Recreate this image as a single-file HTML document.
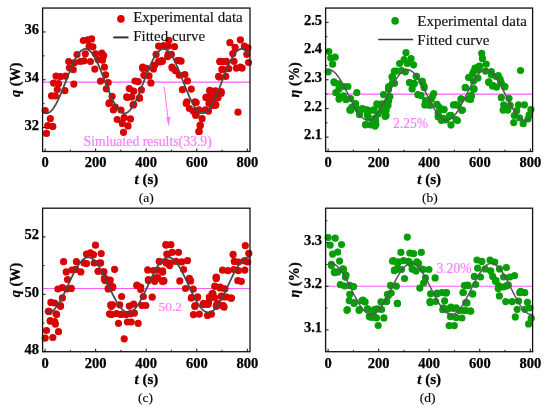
<!DOCTYPE html><html><head><meta charset="utf-8"><style>html,body{margin:0;padding:0;background:#fff;width:550px;height:413px;overflow:hidden}svg{display:block}</style></head><body>
<svg width="550" height="413" viewBox="0 0 550 413">
<rect width="550" height="413" fill="#fff"/>
<line x1="42.6" y1="82.17" x2="250.0" y2="82.17" stroke="#ff5cff" stroke-width="1.1"/>
<g fill="#d80404"><circle cx="83.4" cy="40.5" r="3.6"/><circle cx="87.8" cy="39.8" r="3.6"/><circle cx="91.6" cy="38.9" r="3.6"/><circle cx="89.1" cy="46.2" r="3.6"/><circle cx="92.9" cy="46.8" r="3.6"/><circle cx="77.0" cy="54.5" r="3.6"/><circle cx="85.3" cy="53.8" r="3.6"/><circle cx="95.5" cy="53.8" r="3.6"/><circle cx="101.8" cy="53.2" r="3.6"/><circle cx="103.7" cy="55.7" r="3.6"/><circle cx="68.7" cy="61.5" r="3.6"/><circle cx="74.5" cy="62.7" r="3.6"/><circle cx="80.2" cy="61.5" r="3.6"/><circle cx="84.0" cy="60.8" r="3.6"/><circle cx="90.4" cy="61.5" r="3.6"/><circle cx="98.0" cy="59.5" r="3.6"/><circle cx="102.5" cy="60.2" r="3.6"/><circle cx="69.4" cy="67.8" r="3.6"/><circle cx="73.2" cy="69.7" r="3.6"/><circle cx="94.8" cy="69.1" r="3.6"/><circle cx="104.4" cy="67.2" r="3.6"/><circle cx="56.0" cy="76.1" r="3.6"/><circle cx="60.5" cy="76.7" r="3.6"/><circle cx="65.5" cy="76.1" r="3.6"/><circle cx="105.6" cy="74.8" r="3.6"/><circle cx="53.5" cy="83.1" r="3.6"/><circle cx="58.5" cy="83.7" r="3.6"/><circle cx="73.8" cy="84.1" r="3.6"/><circle cx="100.5" cy="81.2" r="3.6"/><circle cx="108.2" cy="82.5" r="3.6"/><circle cx="57.3" cy="89.5" r="3.6"/><circle cx="64.9" cy="90.7" r="3.6"/><circle cx="106.3" cy="88.8" r="3.6"/><circle cx="51.5" cy="95.8" r="3.6"/><circle cx="55.4" cy="95.8" r="3.6"/><circle cx="45.2" cy="110.5" r="3.6"/><circle cx="50.3" cy="118.7" r="3.6"/><circle cx="47.7" cy="125.7" r="3.6"/><circle cx="52.8" cy="126.4" r="3.6"/><circle cx="46.5" cy="133.4" r="3.6"/><circle cx="112.1" cy="96.3" r="3.6"/><circle cx="109.5" cy="102.6" r="3.6"/><circle cx="115.3" cy="107.0" r="3.6"/><circle cx="129.3" cy="88.6" r="3.6"/><circle cx="135.0" cy="81.0" r="3.6"/><circle cx="138.2" cy="81.6" r="3.6"/><circle cx="133.7" cy="91.2" r="3.6"/><circle cx="141.4" cy="89.9" r="3.6"/><circle cx="126.7" cy="96.9" r="3.6"/><circle cx="131.8" cy="96.9" r="3.6"/><circle cx="139.5" cy="98.2" r="3.6"/><circle cx="133.7" cy="104.5" r="3.6"/><circle cx="142.6" cy="68.3" r="3.6"/><circle cx="146.5" cy="68.3" r="3.6"/><circle cx="143.9" cy="75.3" r="3.6"/><circle cx="149.0" cy="75.9" r="3.6"/><circle cx="153.5" cy="68.9" r="3.6"/><circle cx="154.7" cy="65.1" r="3.6"/><circle cx="159.2" cy="61.9" r="3.6"/><circle cx="162.4" cy="61.3" r="3.6"/><circle cx="150.9" cy="82.9" r="3.6"/><circle cx="168.8" cy="40.4" r="3.6"/><circle cx="158.6" cy="46.1" r="3.6"/><circle cx="163.7" cy="45.5" r="3.6"/><circle cx="168.2" cy="46.1" r="3.6"/><circle cx="174.5" cy="46.7" r="3.6"/><circle cx="156.1" cy="54.4" r="3.6"/><circle cx="168.2" cy="54.4" r="3.6"/><circle cx="171.4" cy="54.4" r="3.6"/><circle cx="158.6" cy="61.4" r="3.6"/><circle cx="161.8" cy="60.7" r="3.6"/><circle cx="179.6" cy="60.7" r="3.6"/><circle cx="142.7" cy="67.1" r="3.6"/><circle cx="172.0" cy="67.1" r="3.6"/><circle cx="167.7" cy="56.6" r="3.6"/><circle cx="177.3" cy="60.5" r="3.6"/><circle cx="181.1" cy="61.1" r="3.6"/><circle cx="172.2" cy="68.1" r="3.6"/><circle cx="175.4" cy="70.6" r="3.6"/><circle cx="179.2" cy="75.1" r="3.6"/><circle cx="184.9" cy="74.5" r="3.6"/><circle cx="187.5" cy="80.8" r="3.6"/><circle cx="182.4" cy="89.7" r="3.6"/><circle cx="191.3" cy="89.1" r="3.6"/><circle cx="186.8" cy="101.8" r="3.6"/><circle cx="195.1" cy="101.8" r="3.6"/><circle cx="219.9" cy="61.7" r="3.6"/><circle cx="223.1" cy="61.7" r="3.6"/><circle cx="221.8" cy="69.4" r="3.6"/><circle cx="218.6" cy="76.4" r="3.6"/><circle cx="209.7" cy="90.4" r="3.6"/><circle cx="214.8" cy="91.6" r="3.6"/><circle cx="221.2" cy="91.6" r="3.6"/><circle cx="205.9" cy="97.4" r="3.6"/><circle cx="211.0" cy="96.7" r="3.6"/><circle cx="217.4" cy="98.0" r="3.6"/><circle cx="213.5" cy="102.5" r="3.6"/><circle cx="186.2" cy="103.5" r="3.6"/><circle cx="189.4" cy="108.5" r="3.6"/><circle cx="193.2" cy="111.1" r="3.6"/><circle cx="198.9" cy="109.8" r="3.6"/><circle cx="205.3" cy="109.8" r="3.6"/><circle cx="208.5" cy="111.1" r="3.6"/><circle cx="195.7" cy="115.5" r="3.6"/><circle cx="202.1" cy="118.7" r="3.6"/><circle cx="200.2" cy="125.7" r="3.6"/><circle cx="198.9" cy="131.5" r="3.6"/><circle cx="218.0" cy="97.7" r="3.6"/><circle cx="213.5" cy="105.4" r="3.6"/><circle cx="221.2" cy="93.3" r="3.6"/><circle cx="108.9" cy="103.6" r="3.6"/><circle cx="113.4" cy="110.0" r="3.6"/><circle cx="121.0" cy="110.0" r="3.6"/><circle cx="127.4" cy="97.3" r="3.6"/><circle cx="139.5" cy="97.9" r="3.6"/><circle cx="133.1" cy="104.9" r="3.6"/><circle cx="117.2" cy="119.5" r="3.6"/><circle cx="124.2" cy="117.6" r="3.6"/><circle cx="130.5" cy="118.9" r="3.6"/><circle cx="122.3" cy="123.4" r="3.6"/><circle cx="128.0" cy="125.9" r="3.6"/><circle cx="123.5" cy="132.3" r="3.6"/><circle cx="240.4" cy="39.8" r="3.6"/><circle cx="229.9" cy="42.7" r="3.6"/><circle cx="235.1" cy="47.3" r="3.6"/><circle cx="244.4" cy="46.2" r="3.6"/><circle cx="247.9" cy="47.9" r="3.6"/><circle cx="232.8" cy="53.7" r="3.6"/><circle cx="246.8" cy="54.3" r="3.6"/><circle cx="220.0" cy="61.3" r="3.6"/><circle cx="226.4" cy="61.3" r="3.6"/><circle cx="234.0" cy="61.3" r="3.6"/><circle cx="248.5" cy="62.5" r="3.6"/><circle cx="240.4" cy="67.1" r="3.6"/><circle cx="225.8" cy="61.7" r="3.6"/><circle cx="222.9" cy="69.3" r="3.6"/><circle cx="228.7" cy="68.7" r="3.6"/><circle cx="236.3" cy="68.1" r="3.6"/><circle cx="242.1" cy="68.1" r="3.6"/><circle cx="219.4" cy="76.9" r="3.6"/><circle cx="225.8" cy="76.3" r="3.6"/><circle cx="210.1" cy="90.8" r="3.6"/><circle cx="215.4" cy="90.8" r="3.6"/><circle cx="206.6" cy="97.2" r="3.6"/><circle cx="211.9" cy="96.6" r="3.6"/><circle cx="196.2" cy="102.5" r="3.6"/><circle cx="212.5" cy="104.8" r="3.6"/><circle cx="215.9" cy="104.8" r="3.6"/><circle cx="238.0" cy="112.2" r="3.6"/><circle cx="215.4" cy="105.2" r="3.6"/><circle cx="209.0" cy="103.5" r="3.6"/><circle cx="200.2" cy="125.0" r="3.6"/><circle cx="199.1" cy="131.4" r="3.6"/><circle cx="196.2" cy="114.0" r="3.6"/></g>
<polyline points="45.10,113.08 45.61,113.19 46.11,113.24 46.62,113.24 47.12,113.19 47.63,113.08 48.13,112.92 48.64,112.71 49.14,112.45 49.65,112.13 50.16,111.76 50.66,111.34 51.17,110.88 51.67,110.36 52.18,109.79 52.68,109.18 53.19,108.52 53.69,107.82 54.20,107.07 54.70,106.27 55.21,105.44 55.72,104.57 56.22,103.65 56.73,102.70 57.23,101.72 57.74,100.70 58.24,99.65 58.75,98.56 59.25,97.45 59.76,96.31 60.27,95.15 60.77,93.96 61.28,92.75 61.78,91.52 62.29,90.28 62.79,89.02 63.30,87.74 63.80,86.46 64.31,85.17 64.81,83.87 65.32,82.56 65.83,81.25 66.33,79.95 66.84,78.64 67.34,77.34 67.85,76.04 68.35,74.76 68.86,73.48 69.36,72.22 69.87,70.97 70.38,69.73 70.88,68.52 71.39,67.33 71.89,66.16 72.40,65.01 72.90,63.89 73.41,62.80 73.91,61.74 74.42,60.71 74.92,59.72 75.43,58.76 75.94,57.84 76.44,56.95 76.95,56.11 77.45,55.31 77.96,54.55 78.46,53.83 78.97,53.16 79.47,52.54 79.98,51.96 80.48,51.43 80.99,50.95 81.50,50.52 82.00,50.14 82.51,49.81 83.01,49.53 83.52,49.31 84.02,49.13 84.53,49.01 85.03,48.95 85.54,48.93 86.05,48.97 86.55,49.07 87.06,49.21 87.56,49.41 88.07,49.66 88.57,49.97 89.08,50.32 89.58,50.73 90.09,51.18 90.59,51.69 91.10,52.24 91.61,52.84 92.11,53.49 92.62,54.18 93.12,54.92 93.63,55.70 94.13,56.53 94.64,57.39 95.14,58.29 95.65,59.23 96.16,60.21 96.66,61.22 97.17,62.27 97.67,63.34 98.18,64.45 98.68,65.58 99.19,66.74 99.69,67.92 100.20,69.12 100.70,70.35 101.21,71.59 101.72,72.85 102.22,74.12 102.73,75.40 103.23,76.69 103.74,77.99 104.24,79.29 104.75,80.60 105.25,81.91 105.76,83.21 106.27,84.52 106.77,85.81 107.28,87.10 107.78,88.38 108.29,89.65 108.79,90.90 109.30,92.14 109.80,93.36 110.31,94.56 110.81,95.73 111.32,96.88 111.83,98.01 112.33,99.11 112.84,100.18 113.34,101.21 113.85,102.22 114.35,103.18 114.86,104.12 115.36,105.01 115.87,105.86 116.38,106.68 116.88,107.45 117.39,108.17 117.89,108.86 118.40,109.49 118.90,110.08 119.41,110.62 119.91,111.12 120.42,111.56 120.92,111.95 121.43,112.29 121.94,112.58 122.44,112.82 122.95,113.01 123.45,113.14 123.96,113.22 124.46,113.25 124.97,113.22 125.47,113.14 125.98,113.01 126.49,112.82 126.99,112.58 127.50,112.29 128.00,111.95 128.51,111.56 129.01,111.12 129.52,110.62 130.02,110.08 130.53,109.49 131.03,108.86 131.54,108.17 132.05,107.45 132.55,106.68 133.06,105.86 133.56,105.01 134.07,104.12 134.57,103.18 135.08,102.22 135.58,101.21 136.09,100.18 136.60,99.11 137.10,98.01 137.61,96.88 138.11,95.73 138.62,94.56 139.12,93.36 139.63,92.14 140.13,90.90 140.64,89.65 141.14,88.38 141.65,87.10 142.16,85.81 142.66,84.52 143.17,83.21 143.67,81.91 144.18,80.60 144.68,79.29 145.19,77.99 145.69,76.69 146.20,75.40 146.71,74.12 147.21,72.85 147.72,71.59 148.22,70.35 148.73,69.12 149.23,67.92 149.74,66.74 150.24,65.58 150.75,64.45 151.25,63.34 151.76,62.27 152.27,61.22 152.77,60.21 153.28,59.23 153.78,58.29 154.29,57.39 154.79,56.53 155.30,55.70 155.80,54.92 156.31,54.18 156.82,53.49 157.32,52.84 157.83,52.24 158.33,51.69 158.84,51.18 159.34,50.73 159.85,50.32 160.35,49.97 160.86,49.66 161.36,49.41 161.87,49.21 162.38,49.07 162.88,48.97 163.39,48.93 163.89,48.95 164.40,49.01 164.90,49.13 165.41,49.31 165.91,49.53 166.42,49.81 166.93,50.14 167.43,50.52 167.94,50.95 168.44,51.43 168.95,51.96 169.45,52.54 169.96,53.16 170.46,53.83 170.97,54.55 171.47,55.31 171.98,56.11 172.49,56.95 172.99,57.84 173.50,58.76 174.00,59.72 174.51,60.71 175.01,61.74 175.52,62.80 176.02,63.89 176.53,65.01 177.04,66.16 177.54,67.33 178.05,68.52 178.55,69.73 179.06,70.97 179.56,72.22 180.07,73.48 180.57,74.76 181.08,76.04 181.58,77.34 182.09,78.64 182.60,79.95 183.10,81.25 183.61,82.56 184.11,83.87 184.62,85.17 185.12,86.46 185.63,87.74 186.13,89.02 186.64,90.28 187.15,91.52 187.65,92.75 188.16,93.96 188.66,95.15 189.17,96.31 189.67,97.45 190.18,98.56 190.68,99.65 191.19,100.70 191.69,101.72 192.20,102.70 192.71,103.65 193.21,104.57 193.72,105.44 194.22,106.27 194.73,107.07 195.23,107.82 195.74,108.52 196.24,109.18 196.75,109.79 197.26,110.36 197.76,110.88 198.27,111.34 198.77,111.76 199.28,112.13 199.78,112.45 200.29,112.71 200.79,112.92 201.30,113.08 201.80,113.19 202.31,113.24 202.82,113.24 203.32,113.19 203.83,113.08 204.33,112.92 204.84,112.71 205.34,112.45 205.85,112.13 206.35,111.76 206.86,111.34 207.37,110.88 207.87,110.36 208.38,109.79 208.88,109.18 209.39,108.52 209.89,107.82 210.40,107.07 210.90,106.27 211.41,105.44 211.91,104.57 212.42,103.65 212.93,102.70 213.43,101.72 213.94,100.70 214.44,99.65 214.95,98.56 215.45,97.45 215.96,96.31 216.46,95.15 216.97,93.96 217.48,92.75 217.98,91.52 218.49,90.28 218.99,89.02 219.50,87.74 220.00,86.46 220.51,85.17 221.01,83.87 221.52,82.56 222.02,81.25 222.53,79.95 223.04,78.64 223.54,77.34 224.05,76.04 224.55,74.76 225.06,73.48 225.56,72.22 226.07,70.97 226.57,69.73 227.08,68.52 227.59,67.33 228.09,66.16 228.60,65.01 229.10,63.89 229.61,62.80 230.11,61.74 230.62,60.71 231.12,59.72 231.63,58.76 232.13,57.84 232.64,56.95 233.15,56.11 233.65,55.31 234.16,54.55 234.66,53.83 235.17,53.16 235.67,52.54 236.18,51.96 236.68,51.43 237.19,50.95 237.70,50.52 238.20,50.14 238.71,49.81 239.21,49.53 239.72,49.31 240.22,49.13 240.73,49.01 241.23,48.95 241.74,48.93 242.24,48.97 242.75,49.07 243.26,49.21 243.76,49.41 244.27,49.66 244.77,49.97 245.28,50.32 245.78,50.73 246.29,51.18 246.79,51.69 247.30,52.24 247.81,52.84 248.31,53.49 248.82,54.18 249.32,54.92 249.83,55.70" fill="none" stroke="#424a4a" stroke-width="1.75"/>
<rect x="42.6" y="8.05" width="207.40" height="143.45" fill="none" stroke="#111" stroke-width="1.3"/>
<path d="M45.10,151.5v-3M70.38,151.5v-1.8M95.65,151.5v-3M120.92,151.5v-1.8M146.20,151.5v-3M171.47,151.5v-1.8M196.75,151.5v-3M222.02,151.5v-1.8M247.30,151.5v-3M42.6,127.59h3M42.6,79.78h3M42.6,31.96h3M42.6,103.68h1.8M42.6,55.87h1.8" stroke="#111" stroke-width="1" fill="none"/>
<text x="45.10" y="166.90" text-anchor="middle" font-family="'Liberation Serif', 'DejaVu Serif', serif" font-weight="bold" font-size="14.5" stroke="#000" stroke-width="0.25">0</text>
<text x="95.65" y="166.90" text-anchor="middle" font-family="'Liberation Serif', 'DejaVu Serif', serif" font-weight="bold" font-size="14.5" stroke="#000" stroke-width="0.25">200</text>
<text x="146.20" y="166.90" text-anchor="middle" font-family="'Liberation Serif', 'DejaVu Serif', serif" font-weight="bold" font-size="14.5" stroke="#000" stroke-width="0.25">400</text>
<text x="196.75" y="166.90" text-anchor="middle" font-family="'Liberation Serif', 'DejaVu Serif', serif" font-weight="bold" font-size="14.5" stroke="#000" stroke-width="0.25">600</text>
<text x="247.30" y="166.90" text-anchor="middle" font-family="'Liberation Serif', 'DejaVu Serif', serif" font-weight="bold" font-size="14.5" stroke="#000" stroke-width="0.25">800</text>
<text x="39.00" y="129.79" text-anchor="end" font-family="'Liberation Serif', 'DejaVu Serif', serif" font-weight="bold" font-size="14.5" stroke="#000" stroke-width="0.25">32</text>
<text x="39.00" y="81.98" text-anchor="end" font-family="'Liberation Serif', 'DejaVu Serif', serif" font-weight="bold" font-size="14.5" stroke="#000" stroke-width="0.25">34</text>
<text x="39.00" y="34.16" text-anchor="end" font-family="'Liberation Serif', 'DejaVu Serif', serif" font-weight="bold" font-size="14.5" stroke="#000" stroke-width="0.25">36</text>
<text x="146.40" y="183.70" text-anchor="middle" font-family="'Liberation Serif', 'DejaVu Serif', serif" font-weight="bold" font-size="15" stroke="#000" stroke-width="0.25"><tspan font-style="italic">t</tspan> (s)</text>
<text x="146.30" y="201.50" text-anchor="middle" font-family="'Liberation Serif', 'DejaVu Serif', serif" font-size="13.5" stroke="#000" stroke-width="0.12">(a)</text>
<text transform="translate(19.60,79.78) rotate(-90)" text-anchor="middle" font-family="'Liberation Serif', 'DejaVu Serif', serif" font-weight="bold" font-size="14.3" stroke="#000" stroke-width="0.25"><tspan font-style="italic">q</tspan> (W)</text>
<line x1="325.6" y1="94.12" x2="532.6" y2="94.12" stroke="#ff5cff" stroke-width="1.1"/>
<g fill="#069e06"><circle cx="328.8" cy="51.5" r="3.6"/><circle cx="330.7" cy="57.8" r="3.6"/><circle cx="335.2" cy="57.2" r="3.6"/><circle cx="332.6" cy="64.2" r="3.6"/><circle cx="328.2" cy="71.8" r="3.6"/><circle cx="334.5" cy="82.6" r="3.6"/><circle cx="338.4" cy="83.9" r="3.6"/><circle cx="347.9" cy="86.5" r="3.6"/><circle cx="344.1" cy="86.5" r="3.6"/><circle cx="392.5" cy="76.9" r="3.6"/><circle cx="394.4" cy="71.2" r="3.6"/><circle cx="388.6" cy="87.1" r="3.6"/><circle cx="333.9" cy="81.9" r="3.6"/><circle cx="339.0" cy="88.9" r="3.6"/><circle cx="335.8" cy="92.7" r="3.6"/><circle cx="339.6" cy="96.5" r="3.6"/><circle cx="343.5" cy="95.9" r="3.6"/><circle cx="339.0" cy="99.1" r="3.6"/><circle cx="346.0" cy="99.7" r="3.6"/><circle cx="350.5" cy="98.5" r="3.6"/><circle cx="356.8" cy="92.7" r="3.6"/><circle cx="355.5" cy="103.5" r="3.6"/><circle cx="351.7" cy="107.4" r="3.6"/><circle cx="349.8" cy="109.9" r="3.6"/><circle cx="358.1" cy="109.3" r="3.6"/><circle cx="362.5" cy="108.6" r="3.6"/><circle cx="367.0" cy="109.9" r="3.6"/><circle cx="359.4" cy="114.4" r="3.6"/><circle cx="367.6" cy="113.7" r="3.6"/><circle cx="368.3" cy="116.9" r="3.6"/><circle cx="365.7" cy="124.5" r="3.6"/><circle cx="371.5" cy="124.5" r="3.6"/><circle cx="375.9" cy="124.5" r="3.6"/><circle cx="374.0" cy="109.9" r="3.6"/><circle cx="377.2" cy="104.8" r="3.6"/><circle cx="381.0" cy="104.8" r="3.6"/><circle cx="375.3" cy="118.2" r="3.6"/><circle cx="381.6" cy="110.5" r="3.6"/><circle cx="386.1" cy="110.5" r="3.6"/><circle cx="386.1" cy="115.6" r="3.6"/><circle cx="383.5" cy="94.6" r="3.6"/><circle cx="388.6" cy="89.5" r="3.6"/><circle cx="389.9" cy="96.5" r="3.6"/><circle cx="388.6" cy="101.0" r="3.6"/><circle cx="388.0" cy="105.5" r="3.6"/><circle cx="392.5" cy="82.5" r="3.6"/><circle cx="350.8" cy="110.2" r="3.6"/><circle cx="355.3" cy="103.8" r="3.6"/><circle cx="359.7" cy="112.7" r="3.6"/><circle cx="366.7" cy="110.2" r="3.6"/><circle cx="367.4" cy="115.3" r="3.6"/><circle cx="373.1" cy="110.2" r="3.6"/><circle cx="376.9" cy="103.8" r="3.6"/><circle cx="382.0" cy="103.8" r="3.6"/><circle cx="387.7" cy="101.3" r="3.6"/><circle cx="386.5" cy="105.7" r="3.6"/><circle cx="385.2" cy="112.1" r="3.6"/><circle cx="385.2" cy="116.5" r="3.6"/><circle cx="378.2" cy="114.0" r="3.6"/><circle cx="365.5" cy="124.8" r="3.6"/><circle cx="370.5" cy="124.8" r="3.6"/><circle cx="375.0" cy="126.1" r="3.6"/><circle cx="373.1" cy="122.3" r="3.6"/><circle cx="375.6" cy="121.6" r="3.6"/><circle cx="406.0" cy="52.7" r="3.6"/><circle cx="404.1" cy="59.7" r="3.6"/><circle cx="411.1" cy="58.5" r="3.6"/><circle cx="399.6" cy="63.5" r="3.6"/><circle cx="407.3" cy="63.5" r="3.6"/><circle cx="413.6" cy="64.8" r="3.6"/><circle cx="396.5" cy="71.2" r="3.6"/><circle cx="401.5" cy="70.5" r="3.6"/><circle cx="405.4" cy="71.8" r="3.6"/><circle cx="392.0" cy="76.9" r="3.6"/><circle cx="394.5" cy="83.3" r="3.6"/><circle cx="416.2" cy="76.3" r="3.6"/><circle cx="409.8" cy="82.6" r="3.6"/><circle cx="414.3" cy="83.3" r="3.6"/><circle cx="421.9" cy="81.4" r="3.6"/><circle cx="423.8" cy="85.8" r="3.6"/><circle cx="388.8" cy="86.5" r="3.6"/><circle cx="416.5" cy="76.3" r="3.6"/><circle cx="409.5" cy="82.6" r="3.6"/><circle cx="414.0" cy="83.9" r="3.6"/><circle cx="422.3" cy="81.4" r="3.6"/><circle cx="424.2" cy="87.7" r="3.6"/><circle cx="412.1" cy="89.0" r="3.6"/><circle cx="417.8" cy="94.7" r="3.6"/><circle cx="421.0" cy="95.4" r="3.6"/><circle cx="433.7" cy="93.5" r="3.6"/><circle cx="425.5" cy="100.5" r="3.6"/><circle cx="431.2" cy="99.2" r="3.6"/><circle cx="424.8" cy="104.9" r="3.6"/><circle cx="429.9" cy="105.5" r="3.6"/><circle cx="436.9" cy="104.3" r="3.6"/><circle cx="439.5" cy="107.5" r="3.6"/><circle cx="443.9" cy="109.4" r="3.6"/><circle cx="438.2" cy="113.2" r="3.6"/><circle cx="438.2" cy="117.0" r="3.6"/><circle cx="443.3" cy="118.3" r="3.6"/><circle cx="449.6" cy="115.7" r="3.6"/><circle cx="456.0" cy="119.5" r="3.6"/><circle cx="453.5" cy="104.9" r="3.6"/><circle cx="457.9" cy="105.5" r="3.6"/><circle cx="462.4" cy="110.0" r="3.6"/><circle cx="461.1" cy="99.2" r="3.6"/><circle cx="465.5" cy="87.7" r="3.6"/><circle cx="468.7" cy="77.5" r="3.6"/><circle cx="432.5" cy="96.3" r="3.6"/><circle cx="437.0" cy="104.5" r="3.6"/><circle cx="444.0" cy="109.6" r="3.6"/><circle cx="438.3" cy="116.0" r="3.6"/><circle cx="441.5" cy="120.5" r="3.6"/><circle cx="445.9" cy="119.8" r="3.6"/><circle cx="451.0" cy="115.4" r="3.6"/><circle cx="451.0" cy="124.9" r="3.6"/><circle cx="457.4" cy="120.5" r="3.6"/><circle cx="455.5" cy="104.5" r="3.6"/><circle cx="461.8" cy="110.3" r="3.6"/><circle cx="461.2" cy="98.8" r="3.6"/><circle cx="468.2" cy="98.8" r="3.6"/><circle cx="471.4" cy="96.3" r="3.6"/><circle cx="481.7" cy="53.3" r="3.6"/><circle cx="482.4" cy="58.4" r="3.6"/><circle cx="486.2" cy="64.1" r="3.6"/><circle cx="479.8" cy="66.0" r="3.6"/><circle cx="473.5" cy="71.7" r="3.6"/><circle cx="478.5" cy="69.8" r="3.6"/><circle cx="485.5" cy="71.1" r="3.6"/><circle cx="491.3" cy="71.7" r="3.6"/><circle cx="469.0" cy="77.5" r="3.6"/><circle cx="477.9" cy="78.1" r="3.6"/><circle cx="498.3" cy="75.5" r="3.6"/><circle cx="488.7" cy="81.9" r="3.6"/><circle cx="493.2" cy="85.7" r="3.6"/><circle cx="500.8" cy="81.9" r="3.6"/><circle cx="504.6" cy="87.0" r="3.6"/><circle cx="465.2" cy="87.6" r="3.6"/><circle cx="473.5" cy="88.9" r="3.6"/><circle cx="520.5" cy="70.5" r="3.6"/><circle cx="473.5" cy="81.2" r="3.6"/><circle cx="474.1" cy="88.9" r="3.6"/><circle cx="471.2" cy="95.4" r="3.6"/><circle cx="470.6" cy="99.5" r="3.6"/><circle cx="488.9" cy="82.4" r="3.6"/><circle cx="492.5" cy="85.9" r="3.6"/><circle cx="496.6" cy="87.1" r="3.6"/><circle cx="501.3" cy="83.0" r="3.6"/><circle cx="504.9" cy="86.5" r="3.6"/><circle cx="501.3" cy="97.7" r="3.6"/><circle cx="509.0" cy="98.3" r="3.6"/><circle cx="503.7" cy="104.8" r="3.6"/><circle cx="510.2" cy="105.4" r="3.6"/><circle cx="503.1" cy="110.1" r="3.6"/><circle cx="507.8" cy="110.1" r="3.6"/><circle cx="518.5" cy="104.8" r="3.6"/><circle cx="524.4" cy="104.8" r="3.6"/><circle cx="516.7" cy="110.7" r="3.6"/><circle cx="514.3" cy="115.5" r="3.6"/><circle cx="519.6" cy="117.8" r="3.6"/><circle cx="513.7" cy="122.6" r="3.6"/><circle cx="523.2" cy="123.7" r="3.6"/><circle cx="529.1" cy="114.9" r="3.6"/><circle cx="530.9" cy="109.6" r="3.6"/><circle cx="527.9" cy="119.0" r="3.6"/><circle cx="475.0" cy="68.0" r="3.6"/><circle cx="478.5" cy="66.5" r="3.6"/><circle cx="472.5" cy="74.0" r="3.6"/><circle cx="491.5" cy="75.0" r="3.6"/><circle cx="496.0" cy="76.5" r="3.6"/><circle cx="500.0" cy="79.0" r="3.6"/></g>
<polyline points="328.10,69.77 328.61,69.73 329.11,69.75 329.62,69.80 330.12,69.89 330.63,70.02 331.13,70.20 331.64,70.41 332.14,70.67 332.65,70.96 333.16,71.30 333.66,71.67 334.17,72.08 334.67,72.53 335.18,73.01 335.68,73.53 336.19,74.09 336.69,74.68 337.20,75.30 337.70,75.95 338.21,76.64 338.72,77.36 339.22,78.10 339.73,78.87 340.23,79.67 340.74,80.49 341.24,81.34 341.75,82.21 342.25,83.10 342.76,84.01 343.27,84.94 343.77,85.88 344.28,86.84 344.78,87.81 345.29,88.80 345.79,89.79 346.30,90.79 346.80,91.80 347.31,92.82 347.81,93.83 348.32,94.85 348.83,95.87 349.33,96.89 349.84,97.91 350.34,98.92 350.85,99.92 351.35,100.92 351.86,101.90 352.36,102.88 352.87,103.84 353.38,104.79 353.88,105.72 354.39,106.64 354.89,107.53 355.40,108.41 355.90,109.26 356.41,110.09 356.91,110.89 357.42,111.67 357.92,112.42 358.43,113.15 358.94,113.84 359.44,114.50 359.95,115.13 360.45,115.73 360.96,116.29 361.46,116.82 361.97,117.32 362.47,117.77 362.98,118.19 363.49,118.58 363.99,118.92 364.50,119.22 365.00,119.49 365.51,119.71 366.01,119.90 366.52,120.04 367.02,120.15 367.53,120.21 368.03,120.23 368.54,120.21 369.05,120.15 369.55,120.04 370.06,119.90 370.56,119.71 371.07,119.49 371.57,119.22 372.08,118.92 372.58,118.58 373.09,118.19 373.60,117.77 374.10,117.32 374.61,116.82 375.11,116.29 375.62,115.73 376.12,115.13 376.63,114.50 377.13,113.84 377.64,113.15 378.14,112.42 378.65,111.67 379.16,110.89 379.66,110.09 380.17,109.26 380.67,108.41 381.18,107.53 381.68,106.64 382.19,105.72 382.69,104.79 383.20,103.84 383.71,102.88 384.21,101.90 384.72,100.92 385.22,99.92 385.73,98.92 386.23,97.91 386.74,96.89 387.24,95.87 387.75,94.85 388.25,93.83 388.76,92.82 389.27,91.80 389.77,90.79 390.28,89.79 390.78,88.80 391.29,87.81 391.79,86.84 392.30,85.88 392.80,84.94 393.31,84.01 393.81,83.10 394.32,82.21 394.83,81.34 395.33,80.49 395.84,79.67 396.34,78.87 396.85,78.10 397.35,77.36 397.86,76.64 398.36,75.95 398.87,75.30 399.38,74.68 399.88,74.09 400.39,73.53 400.89,73.01 401.40,72.53 401.90,72.08 402.41,71.67 402.91,71.30 403.42,70.96 403.93,70.67 404.43,70.41 404.94,70.20 405.44,70.02 405.95,69.89 406.45,69.80 406.96,69.75 407.46,69.73 407.97,69.77 408.47,69.84 408.98,69.95 409.49,70.10 409.99,70.30 410.50,70.53 411.00,70.81 411.51,71.12 412.01,71.48 412.52,71.87 413.02,72.30 413.53,72.76 414.04,73.27 414.54,73.80 415.05,74.38 415.55,74.98 416.06,75.62 416.56,76.29 417.07,76.99 417.57,77.72 418.08,78.48 418.58,79.27 419.09,80.08 419.60,80.91 420.10,81.77 420.61,82.65 421.11,83.55 421.62,84.47 422.12,85.41 422.63,86.36 423.13,87.32 423.64,88.30 424.14,89.29 424.65,90.29 425.16,91.30 425.66,92.31 426.17,93.32 426.67,94.34 427.18,95.36 427.68,96.38 428.19,97.40 428.69,98.41 429.20,99.42 429.71,100.42 430.21,101.41 430.72,102.39 431.22,103.36 431.73,104.32 432.23,105.26 432.74,106.18 433.24,107.09 433.75,107.97 434.25,108.83 434.76,109.68 435.27,110.49 435.77,111.29 436.28,112.05 436.78,112.79 437.29,113.50 437.79,114.17 438.30,114.82 438.80,115.44 439.31,116.02 439.82,116.56 440.32,117.08 440.83,117.55 441.33,117.99 441.84,118.39 442.34,118.75 442.85,119.08 443.35,119.36 443.86,119.61 444.37,119.81 444.87,119.98 445.38,120.10 445.88,120.18 446.39,120.22 446.89,120.22 447.40,120.18 447.90,120.10 448.41,119.98 448.91,119.81 449.42,119.61 449.93,119.36 450.43,119.08 450.94,118.75 451.44,118.39 451.95,117.99 452.45,117.55 452.96,117.08 453.46,116.56 453.97,116.02 454.48,115.44 454.98,114.82 455.49,114.17 455.99,113.50 456.50,112.79 457.00,112.05 457.51,111.29 458.01,110.49 458.52,109.68 459.02,108.83 459.53,107.97 460.04,107.09 460.54,106.18 461.05,105.26 461.55,104.32 462.06,103.36 462.56,102.39 463.07,101.41 463.57,100.42 464.08,99.42 464.59,98.41 465.09,97.40 465.60,96.38 466.10,95.36 466.61,94.34 467.11,93.32 467.62,92.31 468.12,91.30 468.63,90.29 469.13,89.29 469.64,88.30 470.15,87.32 470.65,86.36 471.16,85.41 471.66,84.47 472.17,83.55 472.67,82.65 473.18,81.77 473.68,80.91 474.19,80.08 474.70,79.27 475.20,78.48 475.71,77.72 476.21,76.99 476.72,76.29 477.22,75.62 477.73,74.98 478.23,74.38 478.74,73.80 479.24,73.27 479.75,72.76 480.26,72.30 480.76,71.87 481.27,71.48 481.77,71.12 482.28,70.81 482.78,70.53 483.29,70.30 483.79,70.10 484.30,69.95 484.81,69.84 485.31,69.77 485.82,69.73 486.32,69.75 486.83,69.80 487.33,69.89 487.84,70.02 488.34,70.20 488.85,70.41 489.35,70.67 489.86,70.96 490.37,71.30 490.87,71.67 491.38,72.08 491.88,72.53 492.39,73.01 492.89,73.53 493.40,74.09 493.90,74.68 494.41,75.30 494.91,75.95 495.42,76.64 495.93,77.36 496.43,78.10 496.94,78.87 497.44,79.67 497.95,80.49 498.45,81.34 498.96,82.21 499.46,83.10 499.97,84.01 500.48,84.94 500.98,85.88 501.49,86.84 501.99,87.81 502.50,88.80 503.00,89.79 503.51,90.79 504.01,91.80 504.52,92.82 505.02,93.83 505.53,94.85 506.04,95.87 506.54,96.89 507.05,97.91 507.55,98.92 508.06,99.92 508.56,100.92 509.07,101.90 509.57,102.88 510.08,103.84 510.59,104.79 511.09,105.72 511.60,106.64 512.10,107.53 512.61,108.41 513.11,109.26 513.62,110.09 514.12,110.89 514.63,111.67 515.13,112.42 515.64,113.15 516.15,113.84 516.65,114.50 517.16,115.13 517.66,115.73 518.17,116.29 518.67,116.82 519.18,117.32 519.68,117.77 520.19,118.19 520.70,118.58 521.20,118.92 521.71,119.22 522.21,119.49 522.72,119.71 523.22,119.90 523.73,120.04 524.23,120.15 524.74,120.21 525.25,120.23 525.75,120.21 526.26,120.15 526.76,120.04 527.27,119.90 527.77,119.71 528.28,119.49 528.78,119.22 529.29,118.92 529.79,118.58 530.30,118.19 530.81,117.77 531.31,117.32 531.82,116.82 532.32,116.29" fill="none" stroke="#5a5060" stroke-width="1.5"/>
<rect x="325.6" y="8.05" width="207.00" height="143.45" fill="none" stroke="#111" stroke-width="1.3"/>
<path d="M328.10,151.5v-3M353.38,151.5v-1.8M378.65,151.5v-3M403.93,151.5v-1.8M429.20,151.5v-3M454.48,151.5v-1.8M479.75,151.5v-3M505.02,151.5v-1.8M530.30,151.5v-3M325.6,137.15h3M325.6,108.46h3M325.6,79.78h3M325.6,51.08h3M325.6,22.39h3M325.6,122.81h1.8M325.6,94.12h1.8M325.6,65.43h1.8M325.6,36.74h1.8" stroke="#111" stroke-width="1" fill="none"/>
<text x="328.10" y="166.90" text-anchor="middle" font-family="'Liberation Serif', 'DejaVu Serif', serif" font-weight="bold" font-size="14.5" stroke="#000" stroke-width="0.25">0</text>
<text x="378.65" y="166.90" text-anchor="middle" font-family="'Liberation Serif', 'DejaVu Serif', serif" font-weight="bold" font-size="14.5" stroke="#000" stroke-width="0.25">200</text>
<text x="429.20" y="166.90" text-anchor="middle" font-family="'Liberation Serif', 'DejaVu Serif', serif" font-weight="bold" font-size="14.5" stroke="#000" stroke-width="0.25">400</text>
<text x="479.75" y="166.90" text-anchor="middle" font-family="'Liberation Serif', 'DejaVu Serif', serif" font-weight="bold" font-size="14.5" stroke="#000" stroke-width="0.25">600</text>
<text x="530.30" y="166.90" text-anchor="middle" font-family="'Liberation Serif', 'DejaVu Serif', serif" font-weight="bold" font-size="14.5" stroke="#000" stroke-width="0.25">800</text>
<text x="322.00" y="139.35" text-anchor="end" font-family="'Liberation Serif', 'DejaVu Serif', serif" font-weight="bold" font-size="14.5" stroke="#000" stroke-width="0.25">2.1</text>
<text x="322.00" y="110.66" text-anchor="end" font-family="'Liberation Serif', 'DejaVu Serif', serif" font-weight="bold" font-size="14.5" stroke="#000" stroke-width="0.25">2.2</text>
<text x="322.00" y="81.98" text-anchor="end" font-family="'Liberation Serif', 'DejaVu Serif', serif" font-weight="bold" font-size="14.5" stroke="#000" stroke-width="0.25">2.3</text>
<text x="322.00" y="53.28" text-anchor="end" font-family="'Liberation Serif', 'DejaVu Serif', serif" font-weight="bold" font-size="14.5" stroke="#000" stroke-width="0.25">2.4</text>
<text x="322.00" y="24.59" text-anchor="end" font-family="'Liberation Serif', 'DejaVu Serif', serif" font-weight="bold" font-size="14.5" stroke="#000" stroke-width="0.25">2.5</text>
<text x="429.20" y="183.70" text-anchor="middle" font-family="'Liberation Serif', 'DejaVu Serif', serif" font-weight="bold" font-size="15" stroke="#000" stroke-width="0.25"><tspan font-style="italic">t</tspan> (s)</text>
<text x="429.90" y="201.50" text-anchor="middle" font-family="'Liberation Serif', 'DejaVu Serif', serif" font-size="13.5" stroke="#000" stroke-width="0.12">(b)</text>
<text transform="translate(298.60,79.78) rotate(-90)" text-anchor="middle" font-family="'Liberation Serif', 'DejaVu Serif', serif" font-weight="bold" font-size="14.3" stroke="#000" stroke-width="0.25"><tspan font-style="italic">η</tspan> (%)</text>
<line x1="42.6" y1="288.56" x2="250.0" y2="288.56" stroke="#ff5cff" stroke-width="1.1"/>
<g fill="#d80404"><circle cx="95.5" cy="245.2" r="3.6"/><circle cx="86.5" cy="254.1" r="3.6"/><circle cx="90.4" cy="252.8" r="3.6"/><circle cx="93.5" cy="254.7" r="3.6"/><circle cx="101.2" cy="253.5" r="3.6"/><circle cx="63.6" cy="261.7" r="3.6"/><circle cx="76.4" cy="261.7" r="3.6"/><circle cx="84.0" cy="263.0" r="3.6"/><circle cx="86.5" cy="263.6" r="3.6"/><circle cx="94.2" cy="263.0" r="3.6"/><circle cx="99.3" cy="263.0" r="3.6"/><circle cx="66.2" cy="271.9" r="3.6"/><circle cx="71.9" cy="270.0" r="3.6"/><circle cx="75.7" cy="269.4" r="3.6"/><circle cx="80.8" cy="271.9" r="3.6"/><circle cx="98.0" cy="271.3" r="3.6"/><circle cx="103.7" cy="271.9" r="3.6"/><circle cx="67.5" cy="279.5" r="3.6"/><circle cx="104.4" cy="278.3" r="3.6"/><circle cx="57.9" cy="289.0" r="3.6"/><circle cx="62.4" cy="287.7" r="3.6"/><circle cx="66.8" cy="289.0" r="3.6"/><circle cx="71.3" cy="288.4" r="3.6"/><circle cx="62.4" cy="297.9" r="3.6"/><circle cx="50.9" cy="302.4" r="3.6"/><circle cx="54.7" cy="303.0" r="3.6"/><circle cx="60.5" cy="305.5" r="3.6"/><circle cx="48.4" cy="311.3" r="3.6"/><circle cx="56.0" cy="313.8" r="3.6"/><circle cx="50.3" cy="320.8" r="3.6"/><circle cx="54.7" cy="321.5" r="3.6"/><circle cx="105.6" cy="278.8" r="3.6"/><circle cx="108.2" cy="288.4" r="3.6"/><circle cx="110.7" cy="304.9" r="3.6"/><circle cx="109.5" cy="313.8" r="3.6"/><circle cx="49.0" cy="311.4" r="3.6"/><circle cx="56.6" cy="314.5" r="3.6"/><circle cx="50.3" cy="320.9" r="3.6"/><circle cx="55.4" cy="324.1" r="3.6"/><circle cx="46.5" cy="330.5" r="3.6"/><circle cx="58.5" cy="331.7" r="3.6"/><circle cx="45.2" cy="338.1" r="3.6"/><circle cx="52.8" cy="337.5" r="3.6"/><circle cx="60.5" cy="306.3" r="3.6"/><circle cx="111.4" cy="306.3" r="3.6"/><circle cx="100.6" cy="262.9" r="3.6"/><circle cx="103.8" cy="271.8" r="3.6"/><circle cx="114.6" cy="269.3" r="3.6"/><circle cx="104.5" cy="279.5" r="3.6"/><circle cx="110.2" cy="280.1" r="3.6"/><circle cx="112.7" cy="286.5" r="3.6"/><circle cx="136.9" cy="285.2" r="3.6"/><circle cx="140.7" cy="287.1" r="3.6"/><circle cx="147.7" cy="269.9" r="3.6"/><circle cx="153.5" cy="270.5" r="3.6"/><circle cx="162.4" cy="271.8" r="3.6"/><circle cx="148.4" cy="279.5" r="3.6"/><circle cx="154.7" cy="278.2" r="3.6"/><circle cx="157.9" cy="278.2" r="3.6"/><circle cx="163.6" cy="280.7" r="3.6"/><circle cx="159.2" cy="261.6" r="3.6"/><circle cx="166.2" cy="262.9" r="3.6"/><circle cx="166.2" cy="245.1" r="3.6"/><circle cx="166.8" cy="254.0" r="3.6"/><circle cx="105.1" cy="280.6" r="3.6"/><circle cx="109.5" cy="281.9" r="3.6"/><circle cx="108.3" cy="288.9" r="3.6"/><circle cx="112.7" cy="287.6" r="3.6"/><circle cx="121.6" cy="296.5" r="3.6"/><circle cx="112.7" cy="304.8" r="3.6"/><circle cx="119.7" cy="304.8" r="3.6"/><circle cx="111.5" cy="314.4" r="3.6"/><circle cx="116.5" cy="313.7" r="3.6"/><circle cx="121.0" cy="314.4" r="3.6"/><circle cx="126.1" cy="314.4" r="3.6"/><circle cx="130.5" cy="313.7" r="3.6"/><circle cx="134.4" cy="313.1" r="3.6"/><circle cx="129.3" cy="306.1" r="3.6"/><circle cx="133.7" cy="304.2" r="3.6"/><circle cx="142.0" cy="305.5" r="3.6"/><circle cx="145.8" cy="305.5" r="3.6"/><circle cx="118.5" cy="323.3" r="3.6"/><circle cx="127.4" cy="322.0" r="3.6"/><circle cx="131.2" cy="322.0" r="3.6"/><circle cx="138.2" cy="323.3" r="3.6"/><circle cx="136.9" cy="285.7" r="3.6"/><circle cx="140.7" cy="289.5" r="3.6"/><circle cx="143.3" cy="296.5" r="3.6"/><circle cx="152.2" cy="297.2" r="3.6"/><circle cx="148.4" cy="280.6" r="3.6"/><circle cx="154.7" cy="281.3" r="3.6"/><circle cx="162.4" cy="281.3" r="3.6"/><circle cx="165.8" cy="244.7" r="3.6"/><circle cx="170.9" cy="244.7" r="3.6"/><circle cx="167.7" cy="254.3" r="3.6"/><circle cx="172.2" cy="252.4" r="3.6"/><circle cx="178.5" cy="252.4" r="3.6"/><circle cx="159.5" cy="261.3" r="3.6"/><circle cx="165.8" cy="261.9" r="3.6"/><circle cx="170.3" cy="263.2" r="3.6"/><circle cx="176.0" cy="261.3" r="3.6"/><circle cx="181.7" cy="261.9" r="3.6"/><circle cx="187.5" cy="260.6" r="3.6"/><circle cx="157.5" cy="270.2" r="3.6"/><circle cx="162.6" cy="270.8" r="3.6"/><circle cx="183.6" cy="269.5" r="3.6"/><circle cx="222.5" cy="270.2" r="3.6"/><circle cx="162.6" cy="272.0" r="3.6"/><circle cx="157.5" cy="277.7" r="3.6"/><circle cx="163.9" cy="280.9" r="3.6"/><circle cx="169.6" cy="265.6" r="3.6"/><circle cx="179.8" cy="280.9" r="3.6"/><circle cx="189.4" cy="278.4" r="3.6"/><circle cx="190.6" cy="280.9" r="3.6"/><circle cx="185.5" cy="288.5" r="3.6"/><circle cx="193.2" cy="289.2" r="3.6"/><circle cx="191.3" cy="298.1" r="3.6"/><circle cx="197.6" cy="296.8" r="3.6"/><circle cx="195.1" cy="305.7" r="3.6"/><circle cx="204.0" cy="304.5" r="3.6"/><circle cx="208.5" cy="302.5" r="3.6"/><circle cx="209.7" cy="297.5" r="3.6"/><circle cx="212.9" cy="293.6" r="3.6"/><circle cx="214.8" cy="286.0" r="3.6"/><circle cx="219.9" cy="287.9" r="3.6"/><circle cx="216.1" cy="277.7" r="3.6"/><circle cx="221.2" cy="296.2" r="3.6"/><circle cx="217.4" cy="304.5" r="3.6"/><circle cx="222.5" cy="305.7" r="3.6"/><circle cx="191.6" cy="297.5" r="3.6"/><circle cx="197.4" cy="297.5" r="3.6"/><circle cx="194.8" cy="306.5" r="3.6"/><circle cx="203.1" cy="304.5" r="3.6"/><circle cx="208.2" cy="303.9" r="3.6"/><circle cx="193.5" cy="314.7" r="3.6"/><circle cx="199.3" cy="314.1" r="3.6"/><circle cx="207.5" cy="315.4" r="3.6"/><circle cx="211.4" cy="314.1" r="3.6"/><circle cx="216.5" cy="305.2" r="3.6"/><circle cx="224.1" cy="307.1" r="3.6"/><circle cx="209.5" cy="298.8" r="3.6"/><circle cx="214.5" cy="297.5" r="3.6"/><circle cx="223.5" cy="296.9" r="3.6"/><circle cx="231.1" cy="298.2" r="3.6"/><circle cx="245.3" cy="245.7" r="3.6"/><circle cx="248.8" cy="253.3" r="3.6"/><circle cx="233.1" cy="254.4" r="3.6"/><circle cx="234.3" cy="261.4" r="3.6"/><circle cx="238.4" cy="262.0" r="3.6"/><circle cx="244.2" cy="260.8" r="3.6"/><circle cx="247.7" cy="262.0" r="3.6"/><circle cx="227.9" cy="270.7" r="3.6"/><circle cx="233.7" cy="269.5" r="3.6"/><circle cx="238.4" cy="270.7" r="3.6"/><circle cx="244.8" cy="270.1" r="3.6"/><circle cx="216.3" cy="277.1" r="3.6"/><circle cx="216.3" cy="278.4" r="3.6"/><circle cx="237.8" cy="280.7" r="3.6"/><circle cx="241.3" cy="281.3" r="3.6"/><circle cx="215.1" cy="286.5" r="3.6"/><circle cx="220.3" cy="287.1" r="3.6"/><circle cx="225.0" cy="288.8" r="3.6"/><circle cx="212.2" cy="293.5" r="3.6"/><circle cx="209.3" cy="297.0" r="3.6"/><circle cx="221.5" cy="296.4" r="3.6"/><circle cx="226.7" cy="297.0" r="3.6"/><circle cx="231.4" cy="298.1" r="3.6"/><circle cx="203.5" cy="303.4" r="3.6"/><circle cx="207.6" cy="304.5" r="3.6"/><circle cx="217.4" cy="303.4" r="3.6"/><circle cx="223.3" cy="305.7" r="3.6"/><circle cx="216.3" cy="306.3" r="3.6"/><circle cx="124.2" cy="338.8" r="3.6"/></g>
<polyline points="45.10,311.61 45.61,311.84 46.11,312.04 46.62,312.19 47.12,312.29 47.63,312.36 48.13,312.38 48.64,312.36 49.14,312.29 49.65,312.19 50.16,312.04 50.66,311.84 51.17,311.61 51.67,311.33 52.18,311.01 52.68,310.65 53.19,310.24 53.69,309.80 54.20,309.32 54.70,308.80 55.21,308.25 55.72,307.65 56.22,307.02 56.73,306.36 57.23,305.66 57.74,304.93 58.24,304.17 58.75,303.37 59.25,302.55 59.76,301.70 60.27,300.82 60.77,299.92 61.28,299.00 61.78,298.05 62.29,297.08 62.79,296.09 63.30,295.09 63.80,294.07 64.31,293.03 64.81,291.98 65.32,290.92 65.83,289.85 66.33,288.77 66.84,287.69 67.34,286.60 67.85,285.51 68.35,284.42 68.86,283.33 69.36,282.24 69.87,281.15 70.38,280.07 70.88,279.00 71.39,277.94 71.89,276.89 72.40,275.85 72.90,274.82 73.41,273.81 73.91,272.82 74.42,271.85 74.92,270.90 75.43,269.96 75.94,269.06 76.44,268.17 76.95,267.32 77.45,266.49 77.96,265.69 78.46,264.92 78.97,264.18 79.47,263.47 79.98,262.80 80.48,262.16 80.99,261.56 81.50,260.99 82.00,260.46 82.51,259.97 83.01,259.52 83.52,259.11 84.02,258.74 84.53,258.41 85.03,258.12 85.54,257.87 86.05,257.67 86.55,257.51 87.06,257.39 87.56,257.31 88.07,257.28 88.57,257.29 89.08,257.34 89.58,257.44 90.09,257.58 90.59,257.76 91.10,257.99 91.61,258.26 92.11,258.57 92.62,258.92 93.12,259.31 93.63,259.74 94.13,260.21 94.64,260.72 95.14,261.27 95.65,261.85 96.16,262.47 96.66,263.13 97.17,263.82 97.67,264.54 98.18,265.30 98.68,266.08 99.19,266.90 99.69,267.74 100.20,268.61 100.70,269.51 101.21,270.43 101.72,271.37 102.22,272.33 102.73,273.32 103.23,274.32 103.74,275.33 104.24,276.37 104.75,277.41 105.25,278.47 105.76,279.54 106.27,280.61 106.77,281.70 107.28,282.78 107.78,283.87 108.29,284.97 108.79,286.06 109.30,287.15 109.80,288.23 110.31,289.31 110.81,290.39 111.32,291.45 111.83,292.51 112.33,293.55 112.84,294.58 113.34,295.59 113.85,296.59 114.35,297.57 114.86,298.53 115.36,299.46 115.87,300.38 116.38,301.27 116.88,302.13 117.39,302.97 117.89,303.77 118.40,304.55 118.90,305.30 119.41,306.01 119.91,306.69 120.42,307.34 120.92,307.95 121.43,308.53 121.94,309.07 122.44,309.57 122.95,310.03 123.45,310.45 123.96,310.83 124.46,311.17 124.97,311.47 125.47,311.73 125.98,311.94 126.49,312.12 126.99,312.25 127.50,312.33 128.00,312.38 128.51,312.38 129.01,312.33 129.52,312.25 130.02,312.12 130.53,311.94 131.03,311.73 131.54,311.47 132.05,311.17 132.55,310.83 133.06,310.45 133.56,310.03 134.07,309.57 134.57,309.07 135.08,308.53 135.58,307.95 136.09,307.34 136.60,306.69 137.10,306.01 137.61,305.30 138.11,304.55 138.62,303.77 139.12,302.97 139.63,302.13 140.13,301.27 140.64,300.38 141.14,299.46 141.65,298.53 142.16,297.57 142.66,296.59 143.17,295.59 143.67,294.58 144.18,293.55 144.68,292.51 145.19,291.45 145.69,290.39 146.20,289.31 146.71,288.23 147.21,287.15 147.72,286.06 148.22,284.97 148.73,283.87 149.23,282.78 149.74,281.70 150.24,280.61 150.75,279.54 151.25,278.47 151.76,277.41 152.27,276.37 152.77,275.33 153.28,274.32 153.78,273.32 154.29,272.33 154.79,271.37 155.30,270.43 155.80,269.51 156.31,268.61 156.82,267.74 157.32,266.90 157.83,266.08 158.33,265.30 158.84,264.54 159.34,263.82 159.85,263.13 160.35,262.47 160.86,261.85 161.36,261.27 161.87,260.72 162.38,260.21 162.88,259.74 163.39,259.31 163.89,258.92 164.40,258.57 164.90,258.26 165.41,257.99 165.91,257.76 166.42,257.58 166.93,257.44 167.43,257.34 167.94,257.29 168.44,257.28 168.95,257.31 169.45,257.39 169.96,257.51 170.46,257.67 170.97,257.87 171.47,258.12 171.98,258.41 172.49,258.74 172.99,259.11 173.50,259.52 174.00,259.97 174.51,260.46 175.01,260.99 175.52,261.56 176.02,262.16 176.53,262.80 177.04,263.47 177.54,264.18 178.05,264.92 178.55,265.69 179.06,266.49 179.56,267.32 180.07,268.17 180.57,269.06 181.08,269.96 181.58,270.90 182.09,271.85 182.60,272.82 183.10,273.81 183.61,274.82 184.11,275.85 184.62,276.89 185.12,277.94 185.63,279.00 186.13,280.07 186.64,281.15 187.15,282.24 187.65,283.33 188.16,284.42 188.66,285.51 189.17,286.60 189.67,287.69 190.18,288.77 190.68,289.85 191.19,290.92 191.69,291.98 192.20,293.03 192.71,294.07 193.21,295.09 193.72,296.09 194.22,297.08 194.73,298.05 195.23,299.00 195.74,299.92 196.24,300.82 196.75,301.70 197.26,302.55 197.76,303.37 198.27,304.17 198.77,304.93 199.28,305.66 199.78,306.36 200.29,307.02 200.79,307.65 201.30,308.25 201.80,308.80 202.31,309.32 202.82,309.80 203.32,310.24 203.83,310.65 204.33,311.01 204.84,311.33 205.34,311.61 205.85,311.84 206.35,312.04 206.86,312.19 207.37,312.29 207.87,312.36 208.38,312.38 208.88,312.36 209.39,312.29 209.89,312.19 210.40,312.04 210.90,311.84 211.41,311.61 211.91,311.33 212.42,311.01 212.93,310.65 213.43,310.24 213.94,309.80 214.44,309.32 214.95,308.80 215.45,308.25 215.96,307.65 216.46,307.02 216.97,306.36 217.48,305.66 217.98,304.93 218.49,304.17 218.99,303.37 219.50,302.55 220.00,301.70 220.51,300.82 221.01,299.92 221.52,299.00 222.02,298.05 222.53,297.08 223.04,296.09 223.54,295.09 224.05,294.07 224.55,293.03 225.06,291.98 225.56,290.92 226.07,289.85 226.57,288.77 227.08,287.69 227.59,286.60 228.09,285.51 228.60,284.42 229.10,283.33 229.61,282.24 230.11,281.15 230.62,280.07 231.12,279.00 231.63,277.94 232.13,276.89 232.64,275.85 233.15,274.82 233.65,273.81 234.16,272.82 234.66,271.85 235.17,270.90 235.67,269.96 236.18,269.06 236.68,268.17 237.19,267.32 237.70,266.49 238.20,265.69 238.71,264.92 239.21,264.18 239.72,263.47 240.22,262.80 240.73,262.16 241.23,261.56 241.74,260.99 242.24,260.46 242.75,259.97 243.26,259.52 243.76,259.11 244.27,258.74 244.77,258.41 245.28,258.12 245.78,257.87 246.29,257.67 246.79,257.51 247.30,257.39 247.81,257.31 248.31,257.28 248.82,257.29 249.32,257.34 249.83,257.44" fill="none" stroke="#424a4a" stroke-width="1.75"/>
<rect x="42.6" y="208.2" width="207.40" height="143.50" fill="none" stroke="#111" stroke-width="1.3"/>
<path d="M45.10,351.7v-3M70.38,351.7v-1.8M95.65,351.7v-3M120.92,351.7v-1.8M146.20,351.7v-3M171.47,351.7v-1.8M196.75,351.7v-3M222.02,351.7v-1.8M247.30,351.7v-3M42.6,351.70h3M42.6,294.30h3M42.6,236.90h3M42.6,323.00h1.8M42.6,265.60h1.8" stroke="#111" stroke-width="1" fill="none"/>
<text x="45.10" y="367.60" text-anchor="middle" font-family="'Liberation Serif', 'DejaVu Serif', serif" font-weight="bold" font-size="14.5" stroke="#000" stroke-width="0.25">0</text>
<text x="95.65" y="367.60" text-anchor="middle" font-family="'Liberation Serif', 'DejaVu Serif', serif" font-weight="bold" font-size="14.5" stroke="#000" stroke-width="0.25">200</text>
<text x="146.20" y="367.60" text-anchor="middle" font-family="'Liberation Serif', 'DejaVu Serif', serif" font-weight="bold" font-size="14.5" stroke="#000" stroke-width="0.25">400</text>
<text x="196.75" y="367.60" text-anchor="middle" font-family="'Liberation Serif', 'DejaVu Serif', serif" font-weight="bold" font-size="14.5" stroke="#000" stroke-width="0.25">600</text>
<text x="247.30" y="367.60" text-anchor="middle" font-family="'Liberation Serif', 'DejaVu Serif', serif" font-weight="bold" font-size="14.5" stroke="#000" stroke-width="0.25">800</text>
<text x="39.00" y="353.90" text-anchor="end" font-family="'Liberation Serif', 'DejaVu Serif', serif" font-weight="bold" font-size="14.5" stroke="#000" stroke-width="0.25">48</text>
<text x="39.00" y="296.50" text-anchor="end" font-family="'Liberation Serif', 'DejaVu Serif', serif" font-weight="bold" font-size="14.5" stroke="#000" stroke-width="0.25">50</text>
<text x="39.00" y="239.10" text-anchor="end" font-family="'Liberation Serif', 'DejaVu Serif', serif" font-weight="bold" font-size="14.5" stroke="#000" stroke-width="0.25">52</text>
<text x="146.40" y="384.40" text-anchor="middle" font-family="'Liberation Serif', 'DejaVu Serif', serif" font-weight="bold" font-size="15" stroke="#000" stroke-width="0.25"><tspan font-style="italic">t</tspan> (s)</text>
<text x="145.50" y="402.20" text-anchor="middle" font-family="'Liberation Serif', 'DejaVu Serif', serif" font-size="13.5" stroke="#000" stroke-width="0.12">(c)</text>
<text transform="translate(19.60,279.95) rotate(-90)" text-anchor="middle" font-family="'Liberation Serif', 'DejaVu Serif', serif" font-weight="bold" font-size="14.3" stroke="#000" stroke-width="0.25"><tspan font-style="italic">q</tspan> (W)</text>
<line x1="325.6" y1="286.27" x2="532.6" y2="286.27" stroke="#ff5cff" stroke-width="1.1"/>
<g fill="#069e06"><circle cx="328.2" cy="237.5" r="3.6"/><circle cx="335.2" cy="238.2" r="3.6"/><circle cx="330.1" cy="245.2" r="3.6"/><circle cx="341.5" cy="244.5" r="3.6"/><circle cx="332.6" cy="254.1" r="3.6"/><circle cx="337.7" cy="252.2" r="3.6"/><circle cx="331.4" cy="264.3" r="3.6"/><circle cx="339.6" cy="261.1" r="3.6"/><circle cx="334.5" cy="271.9" r="3.6"/><circle cx="337.7" cy="271.9" r="3.6"/><circle cx="343.5" cy="269.4" r="3.6"/><circle cx="346.0" cy="275.1" r="3.6"/><circle cx="392.5" cy="261.1" r="3.6"/><circle cx="394.4" cy="270.0" r="3.6"/><circle cx="331.4" cy="265.6" r="3.6"/><circle cx="334.5" cy="272.6" r="3.6"/><circle cx="342.8" cy="268.8" r="3.6"/><circle cx="345.4" cy="277.1" r="3.6"/><circle cx="340.3" cy="284.7" r="3.6"/><circle cx="344.7" cy="286.0" r="3.6"/><circle cx="349.8" cy="285.4" r="3.6"/><circle cx="353.6" cy="286.6" r="3.6"/><circle cx="349.8" cy="294.3" r="3.6"/><circle cx="349.2" cy="300.6" r="3.6"/><circle cx="354.3" cy="302.5" r="3.6"/><circle cx="361.9" cy="300.6" r="3.6"/><circle cx="365.1" cy="301.9" r="3.6"/><circle cx="347.3" cy="309.5" r="3.6"/><circle cx="359.4" cy="309.5" r="3.6"/><circle cx="367.6" cy="308.9" r="3.6"/><circle cx="377.2" cy="308.9" r="3.6"/><circle cx="381.6" cy="309.5" r="3.6"/><circle cx="381.0" cy="301.9" r="3.6"/><circle cx="386.7" cy="301.3" r="3.6"/><circle cx="387.4" cy="294.3" r="3.6"/><circle cx="391.2" cy="293.0" r="3.6"/><circle cx="390.5" cy="285.4" r="3.6"/><circle cx="394.4" cy="270.7" r="3.6"/><circle cx="362.9" cy="300.1" r="3.6"/><circle cx="347.0" cy="310.3" r="3.6"/><circle cx="359.1" cy="310.3" r="3.6"/><circle cx="367.4" cy="309.0" r="3.6"/><circle cx="374.4" cy="309.6" r="3.6"/><circle cx="369.3" cy="316.6" r="3.6"/><circle cx="374.4" cy="316.6" r="3.6"/><circle cx="383.9" cy="317.9" r="3.6"/><circle cx="378.2" cy="325.5" r="3.6"/><circle cx="386.5" cy="301.4" r="3.6"/><circle cx="397.3" cy="303.3" r="3.6"/><circle cx="388.4" cy="295.6" r="3.6"/><circle cx="407.3" cy="237.1" r="3.6"/><circle cx="400.9" cy="252.4" r="3.6"/><circle cx="409.8" cy="253.0" r="3.6"/><circle cx="413.6" cy="253.6" r="3.6"/><circle cx="421.3" cy="252.4" r="3.6"/><circle cx="393.3" cy="260.6" r="3.6"/><circle cx="398.4" cy="261.9" r="3.6"/><circle cx="403.5" cy="260.6" r="3.6"/><circle cx="408.5" cy="261.3" r="3.6"/><circle cx="416.8" cy="261.9" r="3.6"/><circle cx="396.5" cy="269.5" r="3.6"/><circle cx="401.5" cy="269.5" r="3.6"/><circle cx="412.4" cy="268.9" r="3.6"/><circle cx="423.2" cy="269.5" r="3.6"/><circle cx="428.9" cy="269.5" r="3.6"/><circle cx="397.5" cy="263.3" r="3.6"/><circle cx="410.3" cy="263.3" r="3.6"/><circle cx="418.5" cy="263.3" r="3.6"/><circle cx="398.2" cy="269.0" r="3.6"/><circle cx="412.2" cy="269.0" r="3.6"/><circle cx="416.0" cy="270.9" r="3.6"/><circle cx="422.4" cy="269.0" r="3.6"/><circle cx="404.5" cy="278.5" r="3.6"/><circle cx="425.5" cy="277.9" r="3.6"/><circle cx="435.1" cy="277.9" r="3.6"/><circle cx="423.6" cy="283.0" r="3.6"/><circle cx="396.3" cy="286.2" r="3.6"/><circle cx="419.8" cy="288.1" r="3.6"/><circle cx="430.6" cy="293.8" r="3.6"/><circle cx="437.0" cy="293.2" r="3.6"/><circle cx="442.1" cy="292.5" r="3.6"/><circle cx="446.5" cy="292.5" r="3.6"/><circle cx="430.0" cy="301.5" r="3.6"/><circle cx="435.7" cy="301.5" r="3.6"/><circle cx="444.6" cy="300.8" r="3.6"/><circle cx="397.5" cy="303.4" r="3.6"/><circle cx="443.4" cy="307.8" r="3.6"/><circle cx="451.0" cy="307.2" r="3.6"/><circle cx="456.1" cy="307.8" r="3.6"/><circle cx="463.1" cy="292.5" r="3.6"/><circle cx="464.4" cy="285.5" r="3.6"/><circle cx="437.1" cy="293.8" r="3.6"/><circle cx="446.0" cy="293.2" r="3.6"/><circle cx="430.1" cy="302.7" r="3.6"/><circle cx="442.8" cy="309.7" r="3.6"/><circle cx="447.9" cy="309.1" r="3.6"/><circle cx="453.6" cy="308.5" r="3.6"/><circle cx="459.4" cy="310.4" r="3.6"/><circle cx="464.5" cy="310.4" r="3.6"/><circle cx="470.2" cy="311.0" r="3.6"/><circle cx="450.5" cy="316.7" r="3.6"/><circle cx="456.2" cy="317.4" r="3.6"/><circle cx="461.9" cy="318.0" r="3.6"/><circle cx="449.2" cy="325.6" r="3.6"/><circle cx="454.3" cy="325.6" r="3.6"/><circle cx="463.2" cy="292.5" r="3.6"/><circle cx="472.7" cy="293.8" r="3.6"/><circle cx="465.7" cy="302.7" r="3.6"/><circle cx="477.0" cy="260.0" r="3.6"/><circle cx="481.8" cy="261.4" r="3.6"/><circle cx="490.0" cy="260.0" r="3.6"/><circle cx="494.8" cy="262.0" r="3.6"/><circle cx="477.7" cy="268.2" r="3.6"/><circle cx="485.2" cy="268.9" r="3.6"/><circle cx="490.7" cy="270.9" r="3.6"/><circle cx="499.5" cy="268.9" r="3.6"/><circle cx="506.4" cy="267.5" r="3.6"/><circle cx="474.3" cy="276.4" r="3.6"/><circle cx="480.5" cy="277.0" r="3.6"/><circle cx="492.7" cy="276.4" r="3.6"/><circle cx="496.1" cy="280.5" r="3.6"/><circle cx="503.6" cy="277.0" r="3.6"/><circle cx="509.8" cy="277.0" r="3.6"/><circle cx="514.5" cy="275.7" r="3.6"/><circle cx="467.5" cy="285.2" r="3.6"/><circle cx="475.7" cy="284.5" r="3.6"/><circle cx="498.9" cy="285.9" r="3.6"/><circle cx="506.4" cy="285.9" r="3.6"/><circle cx="498.2" cy="288.6" r="3.6"/><circle cx="520.7" cy="291.4" r="3.6"/><circle cx="468.2" cy="285.7" r="3.6"/><circle cx="472.6" cy="294.0" r="3.6"/><circle cx="466.9" cy="302.9" r="3.6"/><circle cx="470.7" cy="311.2" r="3.6"/><circle cx="465.6" cy="310.5" r="3.6"/><circle cx="495.5" cy="281.3" r="3.6"/><circle cx="498.7" cy="287.6" r="3.6"/><circle cx="503.2" cy="287.0" r="3.6"/><circle cx="508.3" cy="285.1" r="3.6"/><circle cx="499.4" cy="295.9" r="3.6"/><circle cx="505.7" cy="301.6" r="3.6"/><circle cx="512.1" cy="301.6" r="3.6"/><circle cx="518.5" cy="301.0" r="3.6"/><circle cx="519.7" cy="292.7" r="3.6"/><circle cx="524.8" cy="292.7" r="3.6"/><circle cx="527.4" cy="302.3" r="3.6"/><circle cx="517.2" cy="309.3" r="3.6"/><circle cx="524.8" cy="309.3" r="3.6"/><circle cx="529.9" cy="308.0" r="3.6"/><circle cx="515.3" cy="316.9" r="3.6"/><circle cx="531.2" cy="318.2" r="3.6"/><circle cx="528.6" cy="323.9" r="3.6"/><circle cx="371.5" cy="317.5" r="3.6"/><circle cx="376.5" cy="318.0" r="3.6"/><circle cx="372.0" cy="313.5" r="3.6"/><circle cx="354.0" cy="303.5" r="3.6"/></g>
<polyline points="328.10,264.09 328.61,263.88 329.11,263.70 329.62,263.56 330.12,263.46 330.63,263.40 331.13,263.38 331.64,263.40 332.14,263.46 332.65,263.56 333.16,263.70 333.66,263.88 334.17,264.09 334.67,264.35 335.18,264.65 335.68,264.98 336.19,265.35 336.69,265.76 337.20,266.21 337.70,266.69 338.21,267.21 338.72,267.76 339.22,268.34 339.73,268.95 340.23,269.60 340.74,270.28 341.24,270.98 341.75,271.72 342.25,272.48 342.76,273.27 343.27,274.08 343.77,274.91 344.28,275.77 344.78,276.65 345.29,277.54 345.79,278.46 346.30,279.39 346.80,280.34 347.31,281.30 347.81,282.27 348.32,283.25 348.83,284.24 349.33,285.24 349.84,286.24 350.34,287.25 350.85,288.26 351.35,289.27 351.86,290.28 352.36,291.29 352.87,292.30 353.38,293.29 353.88,294.29 354.39,295.27 354.89,296.25 355.40,297.21 355.90,298.16 356.41,299.09 356.91,300.01 357.42,300.91 357.92,301.80 358.43,302.66 358.94,303.50 359.44,304.32 359.95,305.11 360.45,305.88 360.96,306.62 361.46,307.33 361.97,308.02 362.47,308.67 362.98,309.29 363.49,309.89 363.99,310.44 364.50,310.97 365.00,311.46 365.51,311.91 366.01,312.33 366.52,312.71 367.02,313.06 367.53,313.36 368.03,313.63 368.54,313.86 369.05,314.05 369.55,314.20 370.06,314.31 370.56,314.38 371.07,314.41 371.57,314.40 372.08,314.35 372.58,314.26 373.09,314.13 373.60,313.96 374.10,313.75 374.61,313.50 375.11,313.21 375.62,312.89 376.12,312.53 376.63,312.13 377.13,311.69 377.64,311.22 378.14,310.71 378.65,310.17 379.16,309.59 379.66,308.99 380.17,308.35 380.67,307.68 381.18,306.98 381.68,306.25 382.19,305.50 382.69,304.72 383.20,303.91 383.71,303.08 384.21,302.23 384.72,301.36 385.22,300.46 385.73,299.55 386.23,298.63 386.74,297.68 387.24,296.73 387.75,295.76 388.25,294.78 388.76,293.79 389.27,292.80 389.77,291.79 390.28,290.79 390.78,289.78 391.29,288.77 391.79,287.75 392.30,286.74 392.80,285.74 393.31,284.74 393.81,283.74 394.32,282.76 394.83,281.78 395.33,280.81 395.84,279.86 396.34,278.92 396.85,278.00 397.35,277.09 397.86,276.21 398.36,275.34 398.87,274.49 399.38,273.67 399.88,272.87 400.39,272.10 400.89,271.35 401.40,270.63 401.90,269.94 402.41,269.27 402.91,268.64 403.42,268.04 403.93,267.48 404.43,266.94 404.94,266.44 405.44,265.98 405.95,265.55 406.45,265.16 406.96,264.81 407.46,264.49 407.97,264.22 408.47,263.98 408.98,263.78 409.49,263.62 409.99,263.50 410.50,263.42 411.00,263.38 411.51,263.38 412.01,263.42 412.52,263.50 413.02,263.62 413.53,263.78 414.04,263.98 414.54,264.22 415.05,264.49 415.55,264.81 416.06,265.16 416.56,265.55 417.07,265.98 417.57,266.44 418.08,266.94 418.58,267.48 419.09,268.04 419.60,268.64 420.10,269.27 420.61,269.94 421.11,270.63 421.62,271.35 422.12,272.10 422.63,272.87 423.13,273.67 423.64,274.49 424.14,275.34 424.65,276.21 425.16,277.09 425.66,278.00 426.17,278.92 426.67,279.86 427.18,280.81 427.68,281.78 428.19,282.76 428.69,283.74 429.20,284.74 429.71,285.74 430.21,286.74 430.72,287.75 431.22,288.77 431.73,289.78 432.23,290.79 432.74,291.79 433.24,292.80 433.75,293.79 434.25,294.78 434.76,295.76 435.27,296.73 435.77,297.68 436.28,298.63 436.78,299.55 437.29,300.46 437.79,301.36 438.30,302.23 438.80,303.08 439.31,303.91 439.82,304.72 440.32,305.50 440.83,306.25 441.33,306.98 441.84,307.68 442.34,308.35 442.85,308.99 443.35,309.59 443.86,310.17 444.37,310.71 444.87,311.22 445.38,311.69 445.88,312.13 446.39,312.53 446.89,312.89 447.40,313.21 447.90,313.50 448.41,313.75 448.91,313.96 449.42,314.13 449.93,314.26 450.43,314.35 450.94,314.40 451.44,314.41 451.95,314.38 452.45,314.31 452.96,314.20 453.46,314.05 453.97,313.86 454.48,313.63 454.98,313.36 455.49,313.06 455.99,312.71 456.50,312.33 457.00,311.91 457.51,311.46 458.01,310.97 458.52,310.44 459.02,309.89 459.53,309.29 460.04,308.67 460.54,308.02 461.05,307.33 461.55,306.62 462.06,305.88 462.56,305.11 463.07,304.32 463.57,303.50 464.08,302.66 464.59,301.80 465.09,300.91 465.60,300.01 466.10,299.09 466.61,298.16 467.11,297.21 467.62,296.25 468.12,295.27 468.63,294.29 469.13,293.29 469.64,292.30 470.15,291.29 470.65,290.28 471.16,289.27 471.66,288.26 472.17,287.25 472.67,286.24 473.18,285.24 473.68,284.24 474.19,283.25 474.70,282.27 475.20,281.30 475.71,280.34 476.21,279.39 476.72,278.46 477.22,277.54 477.73,276.65 478.23,275.77 478.74,274.91 479.24,274.08 479.75,273.27 480.26,272.48 480.76,271.72 481.27,270.98 481.77,270.28 482.28,269.60 482.78,268.95 483.29,268.34 483.79,267.76 484.30,267.21 484.81,266.69 485.31,266.21 485.82,265.76 486.32,265.35 486.83,264.98 487.33,264.65 487.84,264.35 488.34,264.09 488.85,263.88 489.35,263.70 489.86,263.56 490.37,263.46 490.87,263.40 491.38,263.38 491.88,263.40 492.39,263.46 492.89,263.56 493.40,263.70 493.90,263.88 494.41,264.09 494.91,264.35 495.42,264.65 495.93,264.98 496.43,265.35 496.94,265.76 497.44,266.21 497.95,266.69 498.45,267.21 498.96,267.76 499.46,268.34 499.97,268.95 500.48,269.60 500.98,270.28 501.49,270.98 501.99,271.72 502.50,272.48 503.00,273.27 503.51,274.08 504.01,274.91 504.52,275.77 505.02,276.65 505.53,277.54 506.04,278.46 506.54,279.39 507.05,280.34 507.55,281.30 508.06,282.27 508.56,283.25 509.07,284.24 509.57,285.24 510.08,286.24 510.59,287.25 511.09,288.26 511.60,289.27 512.10,290.28 512.61,291.29 513.11,292.30 513.62,293.29 514.12,294.29 514.63,295.27 515.13,296.25 515.64,297.21 516.15,298.16 516.65,299.09 517.16,300.01 517.66,300.91 518.17,301.80 518.67,302.66 519.18,303.50 519.68,304.32 520.19,305.11 520.70,305.88 521.20,306.62 521.71,307.33 522.21,308.02 522.72,308.67 523.22,309.29 523.73,309.89 524.23,310.44 524.74,310.97 525.25,311.46 525.75,311.91 526.26,312.33 526.76,312.71 527.27,313.06 527.77,313.36 528.28,313.63 528.78,313.86 529.29,314.05 529.79,314.20 530.30,314.31 530.81,314.38 531.31,314.41 531.82,314.40 532.32,314.35" fill="none" stroke="#5a5060" stroke-width="1.5"/>
<rect x="325.6" y="208.2" width="207.00" height="143.50" fill="none" stroke="#111" stroke-width="1.3"/>
<path d="M328.10,351.7v-3M353.38,351.7v-1.8M378.65,351.7v-3M403.93,351.7v-1.8M429.20,351.7v-3M454.48,351.7v-1.8M479.75,351.7v-3M505.02,351.7v-1.8M530.30,351.7v-3M325.6,329.89h3M325.6,286.27h3M325.6,242.66h3M325.6,308.08h1.8M325.6,264.47h1.8M325.6,220.85h1.8" stroke="#111" stroke-width="1" fill="none"/>
<text x="328.10" y="367.60" text-anchor="middle" font-family="'Liberation Serif', 'DejaVu Serif', serif" font-weight="bold" font-size="14.5" stroke="#000" stroke-width="0.25">0</text>
<text x="378.65" y="367.60" text-anchor="middle" font-family="'Liberation Serif', 'DejaVu Serif', serif" font-weight="bold" font-size="14.5" stroke="#000" stroke-width="0.25">200</text>
<text x="429.20" y="367.60" text-anchor="middle" font-family="'Liberation Serif', 'DejaVu Serif', serif" font-weight="bold" font-size="14.5" stroke="#000" stroke-width="0.25">400</text>
<text x="479.75" y="367.60" text-anchor="middle" font-family="'Liberation Serif', 'DejaVu Serif', serif" font-weight="bold" font-size="14.5" stroke="#000" stroke-width="0.25">600</text>
<text x="530.30" y="367.60" text-anchor="middle" font-family="'Liberation Serif', 'DejaVu Serif', serif" font-weight="bold" font-size="14.5" stroke="#000" stroke-width="0.25">800</text>
<text x="322.00" y="332.09" text-anchor="end" font-family="'Liberation Serif', 'DejaVu Serif', serif" font-weight="bold" font-size="14.5" stroke="#000" stroke-width="0.25">3.1</text>
<text x="322.00" y="288.47" text-anchor="end" font-family="'Liberation Serif', 'DejaVu Serif', serif" font-weight="bold" font-size="14.5" stroke="#000" stroke-width="0.25">3.2</text>
<text x="322.00" y="244.86" text-anchor="end" font-family="'Liberation Serif', 'DejaVu Serif', serif" font-weight="bold" font-size="14.5" stroke="#000" stroke-width="0.25">3.3</text>
<text x="429.20" y="384.40" text-anchor="middle" font-family="'Liberation Serif', 'DejaVu Serif', serif" font-weight="bold" font-size="15" stroke="#000" stroke-width="0.25"><tspan font-style="italic">t</tspan> (s)</text>
<text x="427.70" y="402.20" text-anchor="middle" font-family="'Liberation Serif', 'DejaVu Serif', serif" font-size="13.5" stroke="#000" stroke-width="0.12">(d)</text>
<text transform="translate(298.60,279.95) rotate(-90)" text-anchor="middle" font-family="'Liberation Serif', 'DejaVu Serif', serif" font-weight="bold" font-size="14.3" stroke="#000" stroke-width="0.25"><tspan font-style="italic">η</tspan> (%)</text>
<circle cx="120.9" cy="18.9" r="3.8" fill="#d80404"/>
<line x1="113.3" y1="37.4" x2="128.5" y2="37.4" stroke="#333" stroke-width="2"/>
<text x="133.2" y="22.3" font-family="'Liberation Serif', 'DejaVu Serif', serif" font-size="15" fill="#111" stroke="#111" stroke-width="0.15">Experimental data</text>
<text x="133.2" y="40.8" font-family="'Liberation Serif', 'DejaVu Serif', serif" font-size="15" fill="#111" stroke="#111" stroke-width="0.15">Fitted curve</text>
<circle cx="395.1" cy="20.9" r="3.8" fill="#069e06"/>
<line x1="378.2" y1="39.6" x2="413.1" y2="39.6" stroke="#333" stroke-width="1.5"/>
<text x="417.3" y="25.5" font-family="'Liberation Serif', 'DejaVu Serif', serif" font-size="15" fill="#111" stroke="#111" stroke-width="0.15">Experimental data</text>
<text x="417.3" y="44.6" font-family="'Liberation Serif', 'DejaVu Serif', serif" font-size="15" fill="#111" stroke="#111" stroke-width="0.15">Fitted curve</text>
<text x="83.5" y="146" font-family="'Liberation Serif', 'DejaVu Serif', serif" font-size="13.75" fill="#ff7dff" stroke="#ff7dff" stroke-width="0.2">Simluated results(33.9)</text>
<line x1="164.2" y1="86.5" x2="168.2" y2="120" stroke="#ff7dff" stroke-width="1.1"/>
<path d="M168.7,126.5 L166.2,117.3 L170.6,116.8 Z" fill="#ff7dff"/>
<text x="393" y="128.3" font-family="'Liberation Serif', 'DejaVu Serif', serif" font-size="13.6" fill="#ff7dff" stroke="#ff7dff" stroke-width="0.2">2.25%</text>
<text x="158.6" y="311.2" font-family="'Liberation Serif', 'DejaVu Serif', serif" font-size="13.4" fill="#ff7dff" stroke="#ff7dff" stroke-width="0.2">50.2</text>
<text x="436.4" y="272.9" font-family="'Liberation Serif', 'DejaVu Serif', serif" font-size="13.6" fill="#ff7dff" stroke="#ff7dff" stroke-width="0.2">3.20%</text>
</svg></body></html>
